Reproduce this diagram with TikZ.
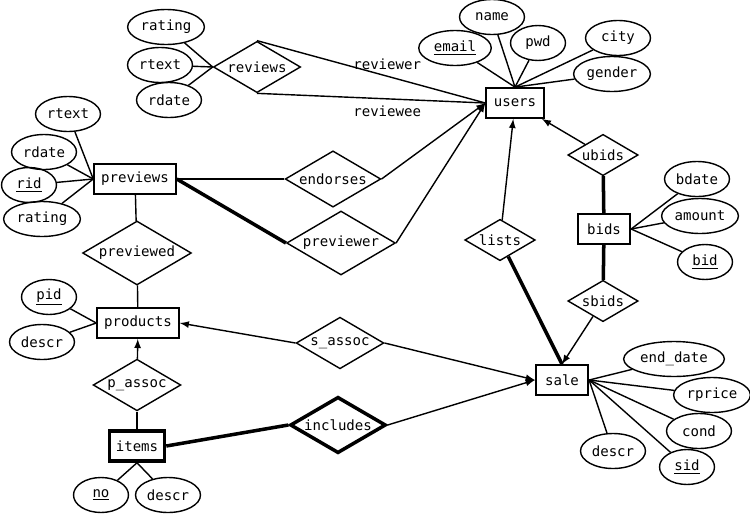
\documentclass[tikz,border=0pt]{standalone}
\usepackage{fontspec}
\setmainfont{DejaVu Sans Mono}
\usetikzlibrary{shapes.geometric, arrows, positioning, calc}

\begin{document}
\begin{tikzpicture}[
   x=0.02cm, y=-0.02cm,
   font=\fontsize{8}{9}\selectfont,
   ent/.style = {draw, rectangle, line width=1pt, minimum height=0.6cm, inner xsep=4pt},
   weak/.style = {draw, rectangle, line width=2pt, minimum width=1.1cm, minimum height=0.6cm},
   attr/.style = {draw, ellipse, thick, minimum width=1.3cm, minimum height=0.7cm, inner sep=1pt},
   rel/.style = {draw, diamond, thick, aspect=1.7, inner sep=1pt},
   line/.style = {draw, thick},
   bold/.style = {draw, line width=2pt},
   arr/.style = {draw, thick, -latex}
   ]
  \useasboundingbox (0,0) rectangle (750,514);
  % entities
  \node[ent, minimum width=1.15cm] (users) at (515,103) {users};
  \node[ent, minimum width=1.6cm] (previews) at (135,179) {previews};
  \node[ent, minimum width=1.6cm] (products) at (138,323) {products};
  \node[weak] (items) at (137,446) {items};
  \node[ent, minimum width=1.05cm] (sale) at (562,380) {sale};
  \node[ent, minimum width=1.05cm] (bids) at (604,229) {bids};

  % relationships
  \node[rel, minimum width=1.65cm] (reviews) at (257,67) {reviews};
  \node[rel, minimum width=1.5cm] (endorses) at (333,179) {endorses};
  \node[rel, minimum width=1.9cm] (previewer) at (341,243) {previewer};
  \node[rel, minimum width=1.9cm] (previewed) at (137,253) {previewed};
  \node[rel, minimum width=1.65cm] (passoc) at (137,385) {p\_assoc};
  \node[rel, minimum width=1.65cm, line width=2pt] (includes) at (338,425) {includes};
  \node[rel, minimum width=1.65cm] (sassoc) at (340,343) {s\_assoc};
  \node[rel, minimum width=1.35cm] (lists) at (500,240) {lists};
  \node[rel, minimum width=1.35cm] (ubids) at (603,155) {ubids};
  \node[rel, minimum width=1.35cm] (sbids) at (603,301) {sbids};

  % attributes of users
  \node[attr] (uname) at (492,17) {name};
  \node[attr, minimum width=1.45cm] (uemail) at (455,48) {\underline{email}};
  \node[attr, minimum width=1.1cm] (upwd) at (538,43) {pwd};
  \node[attr] (ucity) at (618,38) {city};
  \node[attr, minimum width=1.4cm] (ugender) at (612,74) {gender};
  \foreach \a in {uname, uemail, upwd, ucity, ugender}
    \draw[line] (\a) -- (users.north);

  % attributes of reviews
  \node[attr, minimum width=1.5cm] (rvrating) at (166,27) {rating};
  \node[attr] (rvrtext) at (160,65) {rtext};
  \node[attr] (rvrdate) at (169,100) {rdate};
  \foreach \a in {rvrating, rvrtext, rvrdate}
    \draw[line] (\a) -- (reviews.west);

  % attributes of previews
  \node[attr] (prtext) at (68,114) {rtext};
  \node[attr] (prdate) at (44,152) {rdate};
  \node[attr, minimum width=1.1cm] (prid) at (29,185) {\underline{rid}};
  \node[attr, minimum width=1.5cm] (prating) at (42,219) {rating};
  \foreach \a in {prtext, prdate, prid, prating}
    \draw[line] (\a) -- (previews.west);

  % attributes of products
  \node[attr, minimum width=1.1cm] (ppid) at (49,297) {\underline{pid}};
  \node[attr] (pdescr) at (42,342) {descr};
  \foreach \a in {ppid, pdescr}
    \draw[line] (\a) -- (products.west);

  % attributes of items
  \node[attr, minimum width=1.1cm] (ino) at (101,495) {\underline{no}};
  \node[attr] (idescr) at (168,495) {descr};
  \foreach \a in {ino, idescr}
    \draw[line] (\a) -- (items.south);

  % attributes of sale
  \node[attr, minimum width=1.75cm] (send) at (674,359) {end\_date};
  \node[attr, minimum width=1.45cm] (srprice) at (712,395) {rprice};
  \node[attr, minimum width=1.3cm] (scond) at (699,431) {cond};
  \node[attr, minimum width=1.1cm] (ssid) at (687,467) {\underline{sid}};
  \node[attr] (sdescr) at (613,451) {descr};
  \foreach \a in {send, srprice, scond, ssid, sdescr}
    \draw[line] (\a) -- (sale.east);

  % attributes of bids
  \node[attr] (bdate) at (697,179) {bdate};
  \node[attr, minimum width=1.45cm] (bamount) at (700,216) {amount};
  \node[attr, minimum width=1.1cm] (bbid) at (705,262) {\underline{bid}};
  \foreach \a in {bdate, bamount, bbid}
    \draw[line] (\a) -- (bids.east);

  % connectors
  \draw[line] (reviews.north) -- node[above, pos=0.57] {reviewer} (users.west);
  \draw[line] (reviews.south) -- node[below, pos=0.57] {reviewee} (users.west);
  \draw[line] (previews.east) -- (endorses.west);
  \draw[arr] (endorses.east) -- (users.west);
  \draw[bold] (previews.east) -- (previewer.west);
  \draw[arr] (previewer.east) -- (users.west);
  \draw[line] (previews) -- (previewed);
  \draw[line] (previewed) -- (products);
  \draw[line] (items) -- (passoc);
  \draw[arr] (passoc) -- (products);
  \draw[arr] (sassoc.west) -- (products.east);
  \draw[arr] (sassoc.east) -- (sale.west);
  \draw[bold] (items.east) -- (includes.west);
  \draw[arr] (includes.east) -- (sale.west);
  \draw[arr] (lists) -- (users);
  \draw[bold] (lists) -- (sale.north);
  \draw[arr] (ubids) -- (users);
  \draw[bold] (ubids) -- (bids);
  \draw[bold] (bids) -- (sbids);
  \draw[arr] (sbids) -- (sale.north);
\end{tikzpicture}
\end{document}
